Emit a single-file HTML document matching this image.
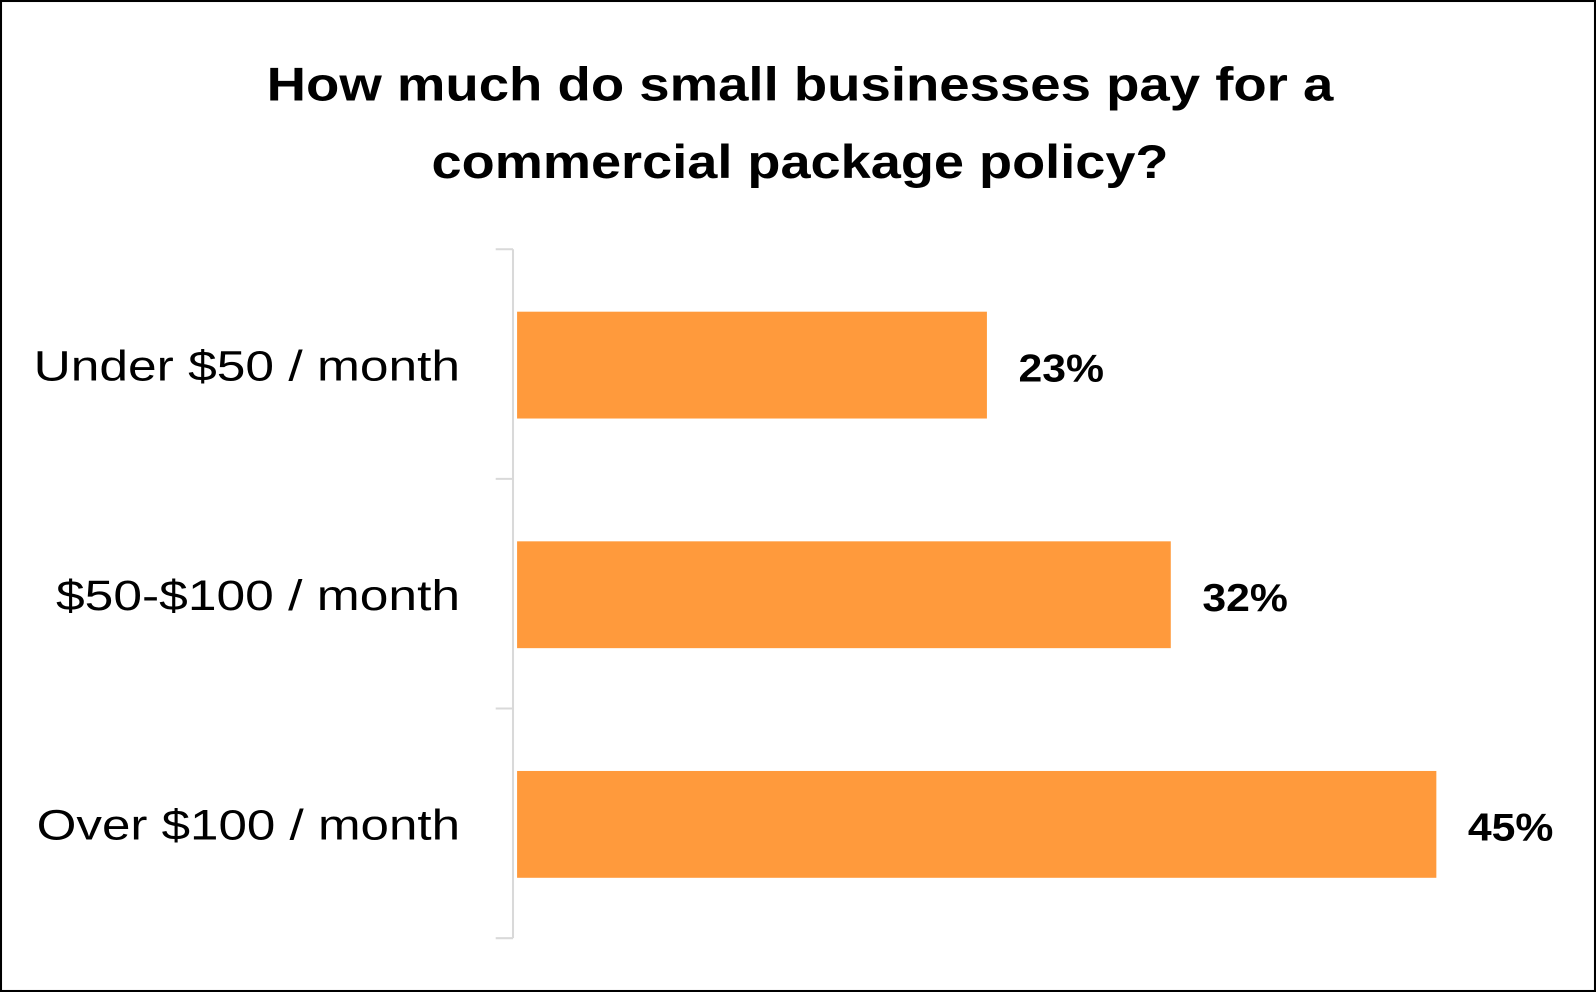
<!DOCTYPE html>
<html>
<head>
<meta charset="utf-8">
<style>
  html, body { margin: 0; padding: 0; background: #fff; }
  svg { display: block; }
  text { font-family: "Liberation Sans", "DejaVu Sans", sans-serif; }
</style>
</head>
<body>
<svg id="chart" width="1596" height="992" viewBox="0 0 1568 975" preserveAspectRatio="none" xmlns="http://www.w3.org/2000/svg">
  <rect x="1" y="1" width="1566" height="973" fill="#fff" stroke="#000" stroke-width="2"/>
  <text x="786" y="99" text-anchor="middle" font-size="46" font-weight="bold" textLength="1048" lengthAdjust="spacingAndGlyphs">How much do small businesses pay for a</text>
  <text x="786" y="175" text-anchor="middle" font-size="46" font-weight="bold" textLength="724" lengthAdjust="spacingAndGlyphs">commercial package policy?</text>
  <g id="axis"></g>
  <g id="bars"></g>
</svg>
<script>
const categories = ["Under $50 / month", "$50-$100 / month", "Over $100 / month"];
const values = [23, 32, 45];
const valueLabels = ["23%", "32%", "45%"];

const NS = "http://www.w3.org/2000/svg";
const x0 = 508, pxPerUnit = 20.07;
const plotTop = 245, bandH = 225.7;
const xScale = v => x0 + v * pxPerUnit;
const bandY = i => plotTop + i * bandH;
const labelWidths = [419, 397, 416];
const axisG = document.getElementById("axis");
const barsG = document.getElementById("bars");

function mk(tag, attrs, parent) {
  const e = document.createElementNS(NS, tag);
  for (const k in attrs) e.setAttribute(k, attrs[k]);
  parent.appendChild(e);
  return e;
}

const axisLine = mk("line", {x1: 504, y1: plotTop, x2: 504, y2: bandY(categories.length), stroke: "#d9d9d9", "stroke-width": 2}, axisG);


for (let i = 0; i <= categories.length; i++) {
  const t = mk("line", {x1: 487, y1: bandY(i), x2: 504, y2: bandY(i), stroke: "#d9d9d9", "stroke-width": 2}, axisG);
  
  
}

categories.forEach((c, i) => {
  const cy = bandY(i) + bandH / 2 + 1;
  const lbl = mk("text", {x: 452, y: cy + 15, "text-anchor": "end", "font-size": 42, textLength: labelWidths[i], lengthAdjust: "spacingAndGlyphs", fill: "#000"}, axisG);
  lbl.textContent = c;
  
  

  const b = mk("rect", {x: x0, y: cy - 52.5, width: xScale(values[i]) - x0, height: 105, fill: "#ff9a3c"}, barsG);
  
  

  const v = mk("text", {x: xScale(values[i]) + 31, y: cy + 16, "font-size": 38, "font-weight": "bold", textLength: 84, lengthAdjust: "spacingAndGlyphs", fill: "#000"}, barsG);
  v.textContent = valueLabels[i];
  
  
});
</script>
</body>
</html>
